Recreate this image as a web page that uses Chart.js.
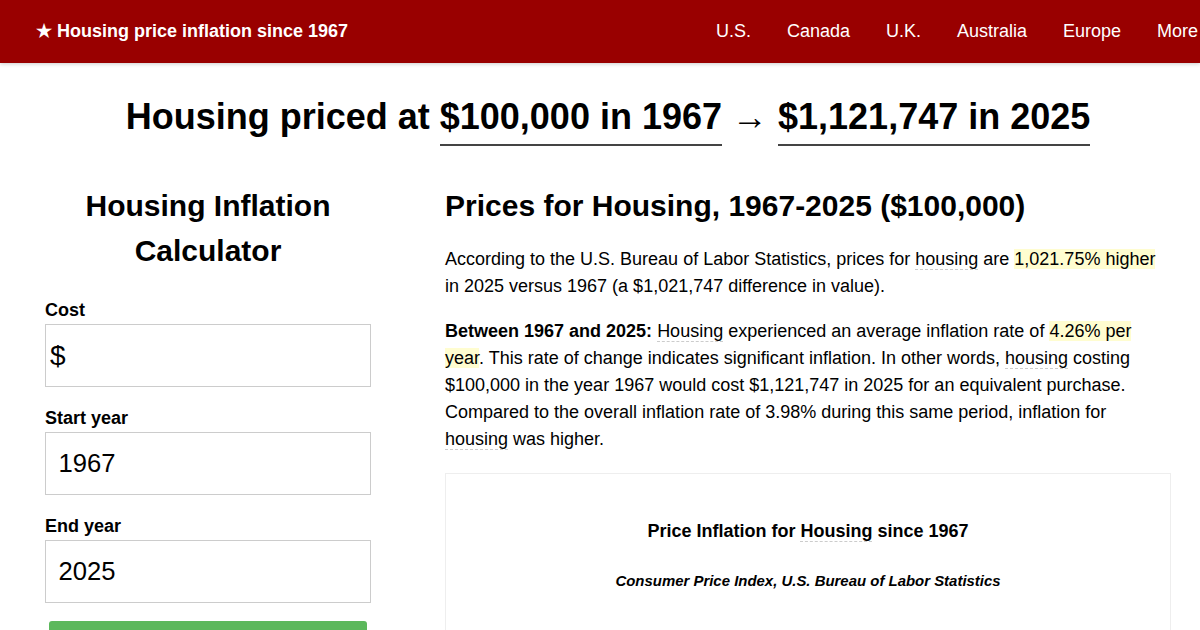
<!DOCTYPE html>
<html>
<head>
<meta charset="utf-8">
<title>Housing price inflation since 1967</title>
<script src="https://cdn.jsdelivr.net/npm/chart.js@4"></script>
<style>
html, body { margin: 0; padding: 0; width: 1200px; height: 630px; overflow: hidden; background: #fff; color: #000; }
body { position: relative; font-family: "Liberation Sans", Arial, sans-serif; font-size: 18px; line-height: 27px; }
nav { position: absolute; left: 0; top: 0; width: 1200px; height: 63px; background: #990000; color: #fff; box-shadow: 0 1px 4px rgba(0,0,0,.2); }
nav b { position: absolute; left: 36px; top: 18px; }
nav span { position: absolute; top: 18px; white-space: nowrap; }
h1 { position: absolute; left: 0; top: 94px; width: 1216px; margin: 0; text-align: center; font-size: 36px; line-height: 45px; white-space: nowrap; }
h1 u { text-decoration: none; display: inline-block; height: 50px; border-bottom: 2px solid #444; }
h1 i { font-style: normal; font-weight: normal; }
h2 { position: absolute; margin: 0; font-size: 30px; line-height: 45px; }
label { position: absolute; left: 45px; font-weight: bold; }
.field { position: absolute; left: 45px; width: 324px; height: 61px; border: 1px solid #ccc; font-size: 25.6px; line-height: 61px; padding: 0; }
.field span { position: absolute; left: 12.5px; top: 0; }
.go { position: absolute; left: 49px; top: 621px; width: 318px; height: 30px; background: #5cb85c; border-radius: 3px; }
p { position: absolute; left: 445px; width: 726px; margin: 0; }
.hl { background: #fffdd0; }
.term { border-bottom: 1px dashed #ccc; }
#card { position: absolute; left: 445px; top: 473px; width: 724px; height: 700px; border: 1px solid #eee; }
#card div { position: absolute; left: 0; width: 724px; text-align: center; font-weight: bold; }
#chartBox { position: absolute; left: 20px; top: 170px; }
</style>
</head>
<body>
<nav>
  <b>★ Housing price inflation since 1967</b>
  <span style="left:716px">U.S.</span>
  <span style="left:787px">Canada</span>
  <span style="left:886px">U.K.</span>
  <span style="left:957px">Australia</span>
  <span style="left:1063px">Europe</span>
  <span style="left:1157px">More</span>
</nav>

<h1>Housing priced at <u>$100,000 in 1967</u> <i>→</i> <u>$1,121,747 in 2025</u></h1>

<h2 style="left:45px;top:183px;width:326px;text-align:center">Housing Inflation Calculator</h2>
<label style="top:297px">Cost</label>
<div class="field" style="top:324px"><span style="left:4px;font-size:28px">$</span></div>
<label style="top:405px">Start year</label>
<div class="field" style="top:432px"><span>1967</span></div>
<label style="top:513px">End year</label>
<div class="field" style="top:540px"><span>2025</span></div>
<div class="go"></div>

<h2 style="left:445px;top:183px;white-space:nowrap">Prices for Housing, 1967-2025 ($100,000)</h2>
<p style="top:246px">According to the U.S. Bureau of Labor Statistics, prices for <span class="term">housing</span> are <span class="hl">1,021.75% higher</span> in 2025 versus 1967 (a $1,021,747 difference in value).</p>
<p style="top:318px"><b>Between 1967 and 2025:</b> <span class="term">Housing</span> experienced an average inflation rate of <span class="hl">4.26% per year</span>. This rate of change indicates significant inflation. In other words, <span class="term">housing</span> costing $100,000 in the year 1967 would cost $1,121,747 in 2025 for an equivalent purchase. Compared to the overall inflation rate of 3.98% during this same period, inflation for <span class="term">housing</span> was higher.</p>

<div id="card">
  <div style="top:44px">Price Inflation for <span class="term">Housing</span> since 1967</div>
  <div style="top:93px;font-size:14.95px;font-style:italic">Consumer Price Index, U.S. Bureau of Labor Statistics</div>
  <div id="chartBox" style="width:684px;height:400px"><canvas id="housing-chart" width="684" height="400"></canvas></div>
</div>

<script>
// the line itself sits below the fold, only the two end values can be read
var years = ['1967', '2025'];
var housingPrices = [100000, 1121747];

var chartCtx = document.getElementById('housing-chart').getContext('2d');
window.housingChart = new Chart(chartCtx, {
    type: 'line',
    data: {
        labels: years,
        datasets: [{
            label: 'Housing',
            data: housingPrices,
            borderColor: '#990000',
            backgroundColor: '#990000',
            fill: false
        }]
    },
    options: {
        responsive: false,
        animation: false,
        plugins: {
            legend: { display: false }
        }
    }
});
</script>
</body>
</html>
